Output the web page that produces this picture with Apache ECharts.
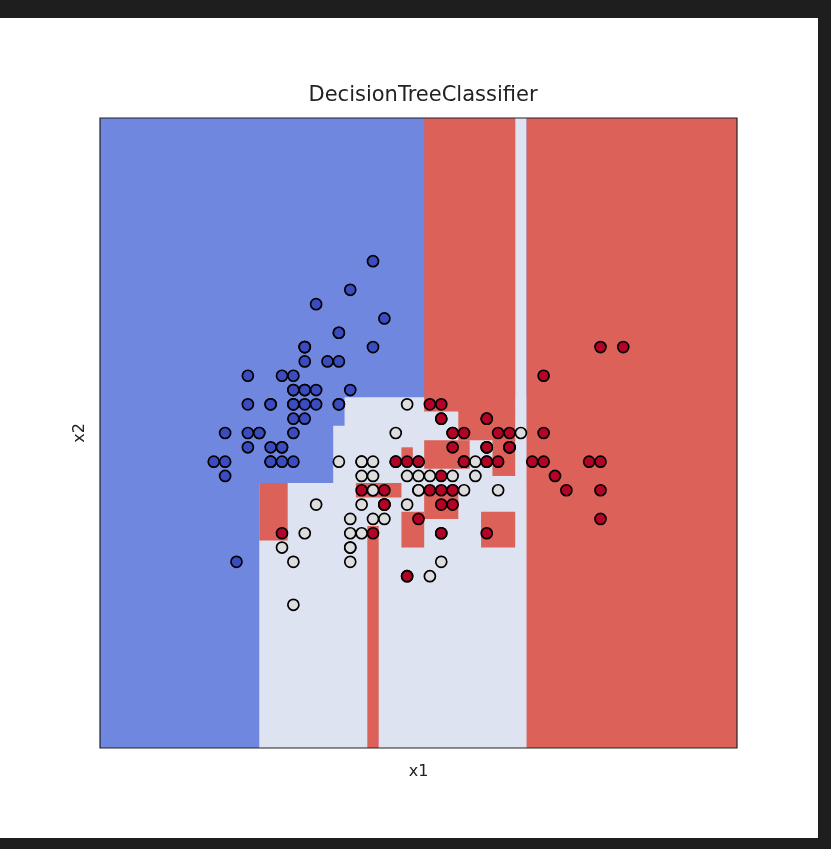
<!DOCTYPE html>
<html><head><meta charset="utf-8">
<script src="https://cdn.jsdelivr.net/npm/echarts@6/dist/echarts.min.js"></script>
<style>
html,body{margin:0;padding:0;background:#1e1e1e;width:831px;height:849px;overflow:hidden}
#c{position:absolute;left:0;top:18px;width:818px;height:820px;background:#fff}
</style></head><body><div id="c"></div>
<script>
// iris sepal length (x1) / sepal width (x2)
const setosa = [[5.1,3.5],[4.9,3.0],[4.7,3.2],[4.6,3.1],[5.0,3.6],[5.4,3.9],[4.6,3.4],[5.0,3.4],[4.4,2.9],[4.9,3.1],[5.4,3.7],[4.8,3.4],[4.8,3.0],[4.3,3.0],[5.8,4.0],[5.7,4.4],[5.4,3.9],[5.1,3.5],[5.7,3.8],[5.1,3.8],[5.4,3.4],[5.1,3.7],[4.6,3.6],[5.1,3.3],[4.8,3.4],[5.0,3.0],[5.0,3.4],[5.2,3.5],[5.2,3.4],[4.7,3.2],[4.8,3.1],[5.4,3.4],[5.2,4.1],[5.5,4.2],[4.9,3.1],[5.0,3.2],[5.5,3.5],[4.9,3.6],[4.4,3.0],[5.1,3.4],[5.0,3.5],[4.5,2.3],[4.4,3.2],[5.0,3.5],[5.1,3.8],[4.8,3.0],[5.1,3.8],[4.6,3.2],[5.3,3.7],[5.0,3.3]];
const versicolor = [[7.0,3.2],[6.4,3.2],[6.9,3.1],[5.5,2.3],[6.5,2.8],[5.7,2.8],[6.3,3.3],[4.9,2.4],[6.6,2.9],[5.2,2.7],[5.0,2.0],[5.9,3.0],[6.0,2.2],[6.1,2.9],[5.6,2.9],[6.7,3.1],[5.6,3.0],[5.8,2.7],[6.2,2.2],[5.6,2.5],[5.9,3.2],[6.1,2.8],[6.3,2.5],[6.1,2.8],[6.4,2.9],[6.6,3.0],[6.8,2.8],[6.7,3.0],[6.0,2.9],[5.7,2.6],[5.5,2.4],[5.5,2.4],[5.8,2.7],[6.0,2.7],[5.4,3.0],[6.0,3.4],[6.7,3.1],[6.3,2.3],[5.6,3.0],[5.5,2.5],[5.5,2.6],[6.1,3.0],[5.8,2.6],[5.0,2.3],[5.6,2.7],[5.7,3.0],[5.7,2.9],[6.2,2.9],[5.1,2.5],[5.7,2.8]];
const virginica = [[6.3,3.3],[5.8,2.7],[7.1,3.0],[6.3,2.9],[6.5,3.0],[7.6,3.0],[4.9,2.5],[7.3,2.9],[6.7,2.5],[7.2,3.6],[6.5,3.2],[6.4,2.7],[6.8,3.0],[5.7,2.5],[5.8,2.8],[6.4,3.2],[6.5,3.0],[7.7,3.8],[7.7,2.6],[6.0,2.2],[6.9,3.2],[5.6,2.8],[7.7,2.8],[6.3,2.7],[6.7,3.3],[7.2,3.2],[6.2,2.8],[6.1,3.0],[6.4,2.8],[7.2,3.0],[7.4,2.8],[7.9,3.8],[6.4,2.8],[6.3,2.8],[6.1,2.6],[7.7,3.0],[6.3,3.4],[6.4,3.1],[6.0,3.0],[6.9,3.1],[6.7,3.1],[6.9,3.1],[5.8,2.7],[6.8,3.2],[6.7,3.3],[6.7,3.0],[6.3,2.5],[6.5,3.0],[6.2,3.4],[5.9,3.0]];
// decision regions: [x0, x1, y0, y1, class]
const regions = [
 [3.3,8.9,1.0,5.4,0],
 [4.7,7.05,1.0,2.85,1],[5.35,7.05,1.0,3.25,1],[5.45,7.05,1.0,3.45,1],[6.95,7.05,1.0,5.4,1],
 [6.15,6.95,3.35,5.4,2],[6.45,6.95,3.15,3.36,2],[6.75,6.95,2.9,3.16,2],[7.05,8.9,1.0,5.4,2],
 [6.15,6.55,2.95,3.15,2],[5.95,6.05,3.0,3.1,2],[5.55,5.95,2.75,2.85,2],[6.15,6.45,2.6,2.8,2],
 [5.95,6.15,2.4,2.65,2],[6.65,6.95,2.4,2.65,2],[5.65,5.75,1.0,2.55,2],[4.7,4.95,2.45,2.85,2]
];
const regionColors = ['#7087e0','#dde3f0','#dc6159'];
const pointColors = ['#3b4cc0','#dddddd','#b40426'];
const ch = echarts.init(document.getElementById('c'));
const sc = (d,i)=>({type:'scatter',data:d,symbolSize:11,z:5,
  itemStyle:{color:pointColors[i],borderColor:'#000',borderWidth:1.7,opacity:1}});
ch.setOption({
 animation:false,
 title:{text:'DecisionTreeClassifier',left:418,top:62,textAlign:'center',textStyle:{fontFamily:'DejaVu Sans',fontSize:21,fontWeight:'normal',color:'#222'}},
 grid:{left:100,top:100,width:637,height:630,show:true,borderColor:'#222',borderWidth:1.2,backgroundColor:'transparent',z:10},
 xAxis:{type:'value',min:3.3,max:8.9,name:'x1',nameLocation:'middle',nameGap:16,nameTextStyle:{fontFamily:'DejaVu Sans',fontSize:16,color:'#222'},axisLabel:{show:false},axisTick:{show:false},axisLine:{show:false},splitLine:{show:false}},
 yAxis:{type:'value',min:1,max:5.4,name:'x2',nameLocation:'middle',nameGap:12,nameTextStyle:{fontFamily:'DejaVu Sans',fontSize:16,color:'#222'},axisLabel:{show:false},axisTick:{show:false},axisLine:{show:false},splitLine:{show:false}},
 series:[
  {type:'custom',z:1,data:regions,clip:true,renderItem:(p,api)=>{
    const a=api.coord([api.value(0),api.value(3)]),b=api.coord([api.value(1),api.value(2)]);
    return {type:'rect',shape:{x:a[0],y:a[1],width:b[0]-a[0],height:b[1]-a[1]},style:{fill:regionColors[api.value(4)]}};
  },encode:{x:[0,1],y:[2,3]}},
  sc(setosa,0),sc(versicolor,1),sc(virginica,2)
 ]
});
</script></body></html>
